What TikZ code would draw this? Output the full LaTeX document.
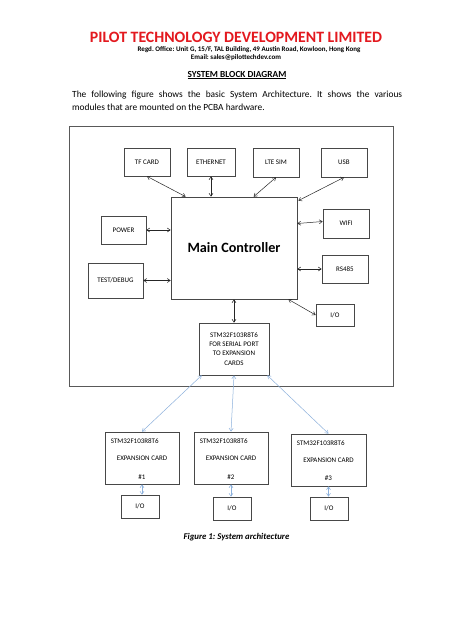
\documentclass[tikz,border=0pt]{standalone}
\usepackage{fontspec}
\setmainfont{Carlito}
\frenchspacing
\usetikzlibrary{calc,arrows.meta}
\definecolor{titlered}{HTML}{E3191F}
\definecolor{linkblue}{HTML}{8DB1DC}
\begin{document}
\begin{tikzpicture}[x=1pt,y=-1pt,
  blk/.style={draw=black!72,line width=0.7pt,inner sep=0pt,font=\fontsize{7}{8}\selectfont,align=center},
  conn/.style={line width=0.5pt,black!85,{Straight Barb[length=3pt,width=4pt]}-{Straight Barb[length=3pt,width=4pt]}},
  bconn/.style={line width=0.5pt,linkblue,{Straight Barb[length=3pt,width=4pt]}-{Straight Barb[length=3pt,width=4pt]}},
  lbl/.style={inner sep=0pt,font=\fontsize{7}{8}\selectfont}]
\useasboundingbox[fill=white] (0,0) rectangle (474,632);
% header
\node[inner sep=0pt,text=titlered,font=\fontsize{15.8}{17}\selectfont\bfseries] (title) at (236,37) {PILOT TECHNOLOGY DEVELOPMENT LIMITED};
\node[inner sep=0pt,font=\fontsize{7}{8}\selectfont\bfseries] (addr) at (249,49.5) {Regd. Office: Unit G, 15/F, TAL Building, 49 Austin Road, Kowloon, Hong Kong};
\node[inner sep=0pt,font=\fontsize{7}{8}\selectfont\bfseries] (mail) at (236,58) {Email: sales@pilottechdev.com};
\node[inner sep=0pt,font=\fontsize{9.3}{10}\selectfont\bfseries] (head) at (237,75) {\underline{SYSTEM BLOCK DIAGRAM}};
\node[inner sep=0pt,anchor=north west,text width=330pt,align=justify,font=\fontsize{9.4}{13}\selectfont] (para) at (72,91)
 {The following figure shows the basic System Architecture. It shows the various\linebreak modules that are mounted on the PCBA hardware.};
% frame
\node[draw=black!65,line width=1pt,minimum width=324pt,minimum height=260pt,inner sep=0pt] (frame) at (231,256) {};
% blocks
\node[blk,minimum width=46pt,minimum height=28pt] (tf) at (147,162) {TF CARD};
\node[blk,minimum width=48pt,minimum height=28pt] (eth) at (211,162) {ETHERNET};
\node[blk,minimum width=46pt,minimum height=29pt] (lte) at (276,162.5) {LTE SIM};
\node[blk,minimum width=46pt,minimum height=29pt] (usb) at (344,162.5) {USB};
\node[blk,minimum width=126pt,minimum height=102pt,font=\fontsize{14.2}{16}\selectfont\bfseries] (main) at (234,248) {Main Controller};
\node[blk,minimum width=45pt,minimum height=28pt] (power) at (123.5,230) {POWER};
\node[blk,minimum width=55pt,minimum height=35pt] (test) at (115.5,280.5) {TEST/DEBUG};
\node[blk,minimum width=46pt,minimum height=29pt] (wifi) at (346,223.5) {WIFI};
\node[blk,minimum width=46pt,minimum height=28pt] (rs) at (345,269) {RS485};
\node[blk,minimum width=38pt,minimum height=22pt] (ior) at (335,315) {I/O};
\node[blk,minimum width=70pt,minimum height=52pt] (stm) at (234,349) {STM32F103R8T6\\[1.2pt]FOR SERIAL PORT\\[1.2pt]TO EXPANSION\\[1.2pt]CARDS};
\foreach \n/\x/\y/\w in {1/142/458/74,2/231/458/74,3/328.5/460/75}{
  \node[blk,minimum width=\w pt,minimum height=52pt] (card\n) at (\x,\y) {};
  \node[lbl,anchor=west] (cardA\n) at ($(card\n.north west)+(6,9)$) {STM32F103R8T6};
  \node[lbl] (cardB\n) at ($(card\n.north)+(0,27)$) {EXPANSION CARD};
  \node[lbl] (cardC\n) at ($(card\n.north)+(0,45)$) {\#\n};
}
\node[blk,minimum width=38pt,minimum height=23pt] (io1) at (140,506.5) {I/O};
\node[blk,minimum width=38pt,minimum height=23pt] (io2) at (232,508.5) {I/O};
\node[blk,minimum width=38pt,minimum height=23pt] (io3) at (329,508.5) {I/O};
% connectors
\draw[conn] (tf.south) -- ($(main.north west)+(15,0)$);
\draw[conn] (eth.south) -- (eth.south |- main.north);
\draw[conn] (lte.south) -- ($(main.north west)+(83,0)$);
\draw[conn] (usb.south) -- ($(main.north east)+(1,4)$);
\draw[conn] (wifi.west -| main.east) -- ($(wifi.west)+(0,-2)$);
\draw[conn] (rs.west -| main.east) -- (rs.west);
\draw[conn] (power.east) -- (power.east -| main.west);
\draw[conn] (test.east) -- (test.east -| main.west);
\draw[conn] ($(main.south east)+(-9,0)$) -- (ior.west);
\draw[conn] (main.south) -- (stm.north);
\draw[bconn] ($(stm.south west)+(3,0)$) -- (card1.north);
\draw[bconn] (stm.south) -- (card2.north);
\draw[bconn] ($(stm.south east)+(-2,0)$) -- (card3.north);
\draw[bconn] (card1.south) -- (card1.south |- io1.north);
\draw[bconn] (card2.south) -- (card2.south |- io2.north);
\draw[bconn] (card3.south) -- (card3.south |- io3.north);
% caption
\node[inner sep=0pt,font=\fontsize{8.8}{10}\selectfont\bfseries\itshape] (cap) at (236.5,537) {Figure 1: System architecture};
\end{tikzpicture}
\end{document}
